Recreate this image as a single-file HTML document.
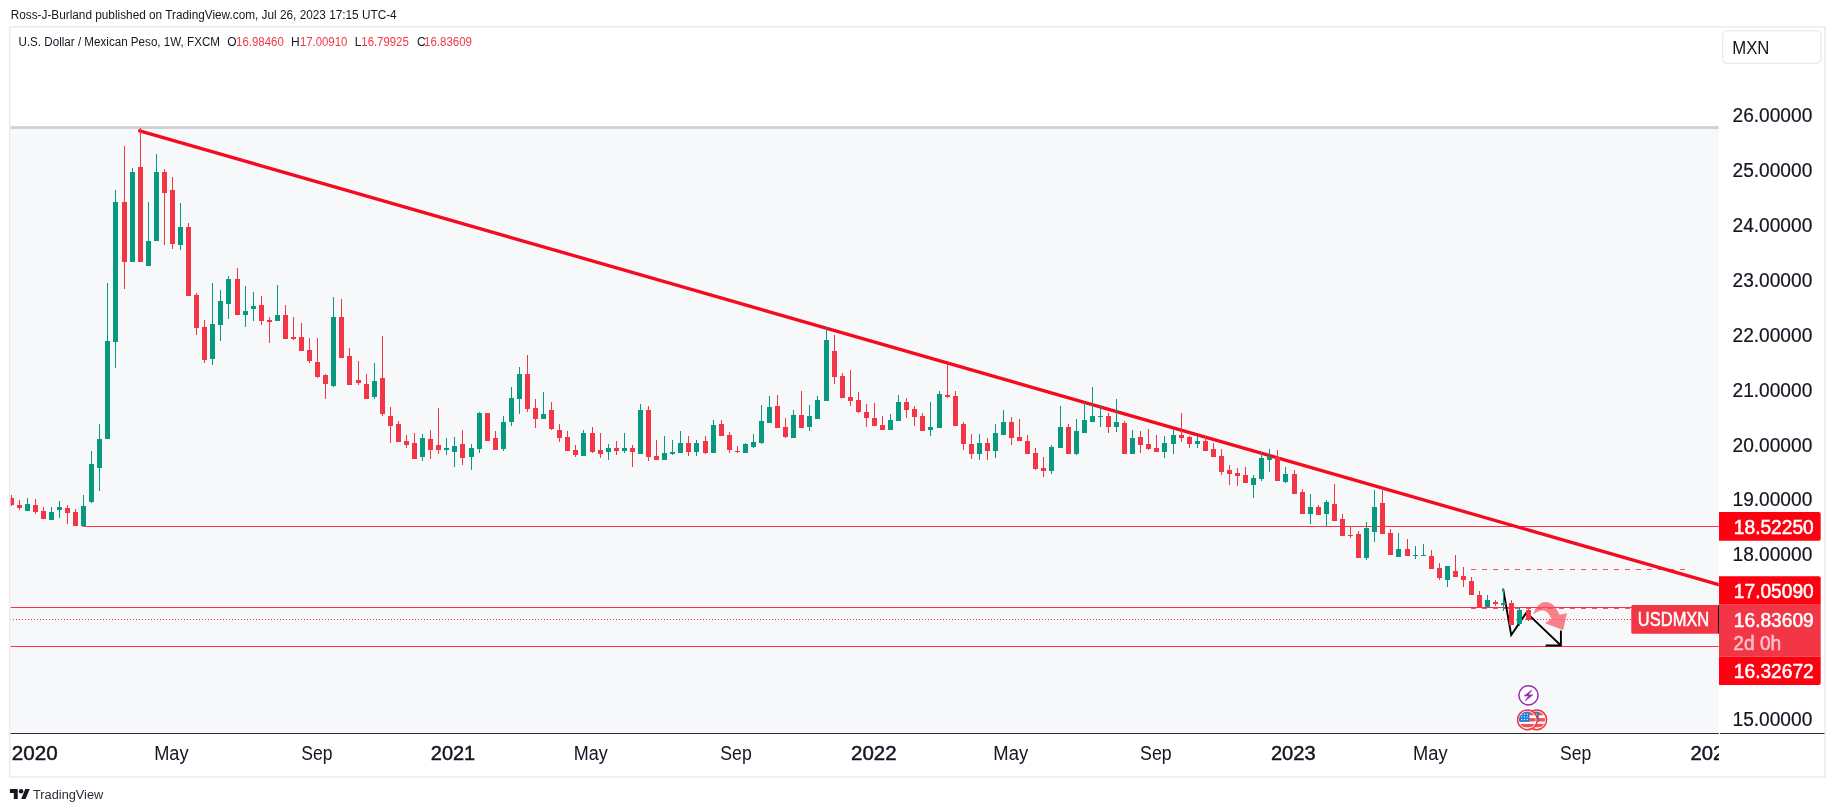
<!DOCTYPE html><html><head><meta charset="utf-8"><style>html,body{margin:0;padding:0;background:#fff}body{width:1835px;height:812px;position:relative;overflow:hidden}</style></head><body><svg width="1835" height="812" viewBox="0 0 1835 812" style="position:absolute;left:0;top:0;will-change:transform" font-family='"Liberation Sans", sans-serif'><defs><clipPath id="cc"><rect x="10.6" y="27.5" width="1708.2" height="705"/></clipPath></defs><rect x="9.75" y="26.75" width="1815.3" height="750.2" fill="#ffffff" stroke="#e9ebef" stroke-width="1.6"/><rect x="10.6" y="128.5" width="1708.2" height="604" fill="#f7f8fa"/><rect x="10.6" y="126.2" width="1708.2" height="2.7" fill="#cdcfd4"/><g clip-path="url(#cc)"><path d="M82.5 526.5H1718.8M10.6 607.5H1718.8M10.6 646.5H1718.8" stroke="#ff3045" stroke-width="1" fill="none"/><path d="M10 619.5H1631" stroke="#f23645" stroke-width="1" stroke-dasharray="1 2" fill="none"/><path d="M1471 569.5H1686M1471 608.5H1631" stroke="#f7505e" stroke-width="1" stroke-dasharray="5 6" fill="none"/><path d="M139.7 130.8L1730 588.0" stroke="#f50a1e" stroke-width="3.3" stroke-linecap="round" fill="none"/><path d="M1503.1 588.6L1511.2 635L1526.4 612.6L1560.9 645.5M1560.9 630.6V645.5H1545.6" stroke="#000" stroke-width="1.9" fill="none" stroke-linejoin="miter"/><g fill="#f7525f" opacity="0.72"><path d="M1533.9 613.5C1537 604.5 1542 602.4 1545.7 602.4C1550 602.4 1554 605 1556 609L1559.5 615.2L1566.4 613.7L1562.9 629.5L1545.7 623.1L1551.8 618.7C1549.5 613.5 1546.5 610 1542.7 610C1539.5 610 1536.5 611.7 1533.9 613.5Z" stroke="#f7525f" stroke-width="0.8" stroke-linejoin="round"/></g><path fill="#f23645" d="M11.0 495h1v11h-1zM9.0 498h5v7h-5zM19.0 500h1v10h-1zM17.0 505h5v3h-5zM35.0 499h1v15h-1zM33.0 505h5v7h-5zM43.0 507h1v12h-1zM41.0 511h5v8h-5zM67.0 505h1v19h-1zM65.0 508h5v5h-5zM75.0 509h1v17h-1zM73.0 512h5v14h-5zM124.0 146h1v143h-1zM122.0 202h5v60h-5zM140.0 128h1v134h-1zM138.0 167h5v95h-5zM164.0 169h1v76h-1zM162.0 172h5v21h-5zM172.0 177h1v72h-1zM170.0 190h5v54h-5zM188.0 223h1v73h-1zM186.0 227h5v69h-5zM196.0 293h1v42h-1zM194.0 295h5v33h-5zM204.0 320h1v43h-1zM202.0 327h5v33h-5zM237.0 268h1v47h-1zM235.0 279h5v36h-5zM261.0 296h1v29h-1zM259.0 305h5v16h-5zM269.0 317h1v26h-1zM267.0 320h5v2h-5zM285.0 305h1v34h-1zM283.0 315h5v24h-5zM293.0 317h1v23h-1zM291.0 337h5v2h-5zM301.0 323h1v28h-1zM299.0 337h5v14h-5zM309.0 338h1v25h-1zM307.0 350h5v11h-5zM317.0 338h1v40h-1zM315.0 362h5v15h-5zM325.0 374h1v25h-1zM323.0 375h5v9h-5zM341.0 299h1v59h-1zM339.0 317h5v41h-5zM349.0 348h1v37h-1zM347.0 356h5v29h-5zM358.0 361h1v24h-1zM356.0 380h5v3h-5zM366.0 374h1v25h-1zM364.0 384h5v15h-5zM382.0 336h1v80h-1zM380.0 378h5v36h-5zM390.0 407h1v36h-1zM388.0 416h5v10h-5zM398.0 421h1v21h-1zM396.0 424h5v18h-5zM406.0 435h1v13h-1zM404.0 441h5v4h-5zM414.0 433h1v26h-1zM412.0 443h5v16h-5zM430.0 430h1v29h-1zM428.0 439h5v11h-5zM438.0 408h1v46h-1zM436.0 445h5v5h-5zM462.0 430h1v35h-1zM460.0 444h5v14h-5zM485.0 413h5v28h-5zM495.0 431h1v19h-1zM493.0 438h5v12h-5zM527.0 355h1v57h-1zM525.0 374h5v35h-5zM535.0 399h1v29h-1zM533.0 408h5v11h-5zM551.0 402h1v28h-1zM549.0 410h5v19h-5zM559.0 424h1v18h-1zM557.0 430h5v8h-5zM567.0 431h1v20h-1zM565.0 437h5v14h-5zM575.0 445h1v12h-1zM573.0 450h5v5h-5zM592.0 427h1v26h-1zM590.0 433h5v19h-5zM600.0 433h1v25h-1zM598.0 450h5v4h-5zM616.0 441h1v14h-1zM614.0 448h5v3h-5zM632.0 445h1v22h-1zM630.0 448h5v4h-5zM648.0 406h1v55h-1zM646.0 410h5v47h-5zM656.0 440h1v20h-1zM654.0 456h5v4h-5zM688.0 436h1v20h-1zM686.0 443h5v9h-5zM705.0 436h1v18h-1zM703.0 441h5v12h-5zM721.0 420h1v16h-1zM719.0 424h5v12h-5zM729.0 432h1v21h-1zM727.0 435h5v15h-5zM737.0 446h1v7h-1zM735.0 451h5v1h-5zM777.0 395h1v33h-1zM775.0 406h5v22h-5zM785.0 418h1v20h-1zM783.0 427h5v10h-5zM801.0 391h1v37h-1zM799.0 415h5v13h-5zM834.0 335h1v49h-1zM832.0 351h5v26h-5zM842.0 373h1v25h-1zM840.0 376h5v22h-5zM850.0 370h1v36h-1zM848.0 397h5v4h-5zM858.0 392h1v21h-1zM856.0 400h5v12h-5zM866.0 404h1v23h-1zM864.0 412h5v6h-5zM874.0 403h1v23h-1zM872.0 418h5v8h-5zM882.0 416h1v14h-1zM880.0 425h5v5h-5zM906.0 398h1v20h-1zM904.0 402h5v8h-5zM914.0 406h1v20h-1zM912.0 409h5v8h-5zM922.0 413h1v18h-1zM920.0 416h5v15h-5zM947.0 364h1v34h-1zM945.0 395h5v2h-5zM955.0 391h1v35h-1zM953.0 396h5v30h-5zM963.0 422h1v28h-1zM961.0 424h5v20h-5zM971.0 434h1v25h-1zM969.0 444h5v10h-5zM987.0 438h1v22h-1zM985.0 443h5v8h-5zM1011.0 417h1v28h-1zM1009.0 422h5v16h-5zM1019.0 419h1v22h-1zM1017.0 437h5v4h-5zM1027.0 435h1v19h-1zM1025.0 441h5v13h-5zM1035.0 448h1v22h-1zM1033.0 453h5v16h-5zM1043.0 457h1v20h-1zM1041.0 468h5v3h-5zM1068.0 424h1v30h-1zM1066.0 427h5v27h-5zM1108.0 413h1v20h-1zM1106.0 416h5v11h-5zM1124.0 421h1v33h-1zM1122.0 423h5v31h-5zM1140.0 431h1v22h-1zM1138.0 437h5v8h-5zM1148.0 429h1v21h-1zM1146.0 444h5v5h-5zM1156.0 435h1v17h-1zM1154.0 448h5v4h-5zM1181.0 413h1v29h-1zM1179.0 435h5v3h-5zM1189.0 436h1v12h-1zM1187.0 437h5v7h-5zM1205.0 436h1v15h-1zM1203.0 441h5v10h-5zM1213.0 443h1v14h-1zM1211.0 449h5v8h-5zM1221.0 449h1v26h-1zM1219.0 456h5v16h-5zM1229.0 465h1v20h-1zM1227.0 470h5v4h-5zM1237.0 468h1v18h-1zM1235.0 473h5v3h-5zM1245.0 467h1v16h-1zM1243.0 475h5v8h-5zM1277.0 450h1v31h-1zM1275.0 457h5v24h-5zM1294.0 470h1v24h-1zM1292.0 474h5v20h-5zM1302.0 489h1v25h-1zM1300.0 492h5v22h-5zM1318.0 505h1v10h-1zM1316.0 507h5v8h-5zM1334.0 484h1v37h-1zM1332.0 504h5v17h-5zM1342.0 514h1v22h-1zM1340.0 519h5v17h-5zM1350.0 526h1v12h-1zM1348.0 535h5v1h-5zM1358.0 531h1v27h-1zM1356.0 534h5v24h-5zM1382.0 488h1v46h-1zM1380.0 503h5v31h-5zM1390.0 529h1v26h-1zM1388.0 533h5v22h-5zM1407.0 539h1v17h-1zM1405.0 549h5v7h-5zM1431.0 550h1v19h-1zM1429.0 556h5v13h-5zM1439.0 563h1v17h-1zM1437.0 568h5v10h-5zM1455.0 555h1v22h-1zM1453.0 571h5v6h-5zM1463.0 567h1v20h-1zM1461.0 576h5v4h-5zM1471.0 577h1v18h-1zM1469.0 581h5v14h-5zM1479.0 591h1v16h-1zM1477.0 595h5v12h-5zM1495.0 600h1v6h-1zM1493.0 602h5v2h-5zM1511.0 600h1v25h-1zM1509.0 603h5v22h-5zM1528.0 609h1v12h-1zM1526.0 610h5v10h-5z"/><path fill="#089981" d="M27.0 498h1v13h-1zM25.0 504h5v7h-5zM51.0 507h1v13h-1zM49.0 512h5v8h-5zM59.0 501h1v17h-1zM57.0 507h5v3h-5zM83.0 495h1v31h-1zM81.0 506h5v20h-5zM91.0 451h1v52h-1zM89.0 464h5v38h-5zM99.0 424h1v67h-1zM97.0 439h5v29h-5zM107.0 283h1v156h-1zM105.0 341h5v98h-5zM115.0 190h1v178h-1zM113.0 202h5v140h-5zM132.0 168h1v94h-1zM130.0 172h5v90h-5zM148.0 202h1v64h-1zM146.0 241h5v25h-5zM156.0 154h1v87h-1zM154.0 172h5v69h-5zM180.0 203h1v47h-1zM178.0 227h5v18h-5zM212.0 283h1v82h-1zM210.0 324h5v35h-5zM220.0 290h1v51h-1zM218.0 301h5v24h-5zM228.0 276h1v43h-1zM226.0 279h5v25h-5zM245.0 286h1v41h-1zM243.0 311h5v4h-5zM253.0 292h1v29h-1zM251.0 306h5v3h-5zM277.0 285h1v36h-1zM275.0 315h5v6h-5zM333.0 297h1v90h-1zM331.0 317h5v69h-5zM374.0 363h1v36h-1zM372.0 381h5v16h-5zM422.0 434h1v27h-1zM420.0 438h5v19h-5zM446.0 438h1v17h-1zM444.0 448h5v2h-5zM454.0 437h1v30h-1zM452.0 446h5v6h-5zM471.0 444h1v26h-1zM469.0 448h5v9h-5zM479.0 412h1v41h-1zM477.0 413h5v36h-5zM503.0 416h1v35h-1zM501.0 422h5v27h-5zM511.0 387h1v39h-1zM509.0 398h5v24h-5zM519.0 367h1v47h-1zM517.0 374h5v25h-5zM543.0 392h1v27h-1zM541.0 414h5v5h-5zM583.0 430h1v26h-1zM581.0 433h5v23h-5zM608.0 444h1v16h-1zM606.0 448h5v4h-5zM624.0 433h1v20h-1zM622.0 448h5v3h-5zM640.0 404h1v50h-1zM638.0 410h5v44h-5zM664.0 436h1v24h-1zM662.0 453h5v7h-5zM672.0 440h1v15h-1zM670.0 452h5v2h-5zM680.0 431h1v22h-1zM678.0 443h5v10h-5zM696.0 440h1v16h-1zM694.0 443h5v9h-5zM713.0 420h1v33h-1zM711.0 425h5v28h-5zM745.0 443h1v10h-1zM743.0 444h5v9h-5zM753.0 434h1v14h-1zM751.0 442h5v5h-5zM761.0 405h1v39h-1zM759.0 421h5v22h-5zM769.0 396h1v27h-1zM767.0 407h5v16h-5zM793.0 410h1v28h-1zM791.0 415h5v23h-5zM809.0 405h1v26h-1zM807.0 416h5v11h-5zM817.0 396h1v23h-1zM815.0 400h5v19h-5zM826.0 327h1v74h-1zM824.0 340h5v61h-5zM890.0 414h1v16h-1zM888.0 420h5v10h-5zM898.0 395h1v26h-1zM896.0 402h5v19h-5zM930.0 402h1v34h-1zM928.0 427h5v3h-5zM939.0 391h1v37h-1zM937.0 394h5v34h-5zM979.0 434h1v26h-1zM977.0 443h5v11h-5zM995.0 424h1v34h-1zM993.0 433h5v18h-5zM1003.0 410h1v25h-1zM1001.0 422h5v13h-5zM1051.0 445h1v29h-1zM1049.0 447h5v24h-5zM1060.0 406h1v42h-1zM1058.0 427h5v21h-5zM1076.0 419h1v36h-1zM1074.0 431h5v23h-5zM1084.0 402h1v31h-1zM1082.0 420h5v13h-5zM1092.0 387h1v35h-1zM1090.0 416h5v6h-5zM1100.0 405h1v22h-1zM1098.0 416h5v1h-5zM1116.0 399h1v33h-1zM1114.0 422h5v5h-5zM1132.0 430h1v24h-1zM1130.0 438h5v16h-5zM1164.0 436h1v22h-1zM1162.0 443h5v9h-5zM1173.0 430h1v24h-1zM1171.0 435h5v9h-5zM1197.0 436h1v12h-1zM1195.0 441h5v3h-5zM1253.0 475h1v23h-1zM1251.0 478h5v7h-5zM1261.0 452h1v29h-1zM1259.0 458h5v21h-5zM1269.0 449h1v23h-1zM1267.0 457h5v3h-5zM1285.0 467h1v16h-1zM1283.0 474h5v8h-5zM1310.0 494h1v30h-1zM1308.0 507h5v7h-5zM1326.0 500h1v26h-1zM1324.0 502h5v12h-5zM1366.0 522h1v38h-1zM1364.0 528h5v30h-5zM1374.0 490h1v52h-1zM1372.0 507h5v25h-5zM1398.0 533h1v24h-1zM1396.0 549h5v8h-5zM1415.0 546h1v13h-1zM1413.0 555h5v1h-5zM1423.0 544h1v12h-1zM1421.0 555h5v1h-5zM1447.0 566h1v21h-1zM1445.0 566h5v14h-5zM1487.0 595h1v12h-1zM1485.0 600h5v7h-5zM1503.0 589h1v22h-1zM1501.0 603h5v2h-5zM1519.0 607h1v19h-1zM1517.0 610h5v14h-5z"/><circle cx="1528.5" cy="695.3" r="9.6" fill="#fff" stroke="#9c27b0" stroke-width="1.5"/><path d="M1531.8 690.1L1524.2 695.9H1528.7L1525.3 700.7L1532.8 694.9H1528.3Z" fill="#9c27b0" stroke="#9c27b0" stroke-width="0.7" stroke-linejoin="round"/><circle cx="1536.8" cy="719.85" r="9.85" fill="#fff" stroke="#f23645" stroke-width="1.5"/><clipPath id="fl1536"><circle cx="1536.8" cy="719.85" r="8.3"/></clipPath><g clip-path="url(#fl1536)"><rect x="1527.8" y="710.85" width="18" height="18" fill="#fff"/><rect x="1527.8" y="712.20" width="18" height="3.1" fill="#f0534f"/><rect x="1527.8" y="718.10" width="18" height="3.4" fill="#f0534f"/><rect x="1527.8" y="723.90" width="18" height="3.4" fill="#f0534f"/><rect x="1527.8" y="710.85" width="11.0" height="10.95" fill="#1e7de0"/><rect x="1530.60" y="713.70" width="1.1" height="1.1" fill="#fff"/><rect x="1530.60" y="716.30" width="1.1" height="1.1" fill="#fff"/><rect x="1530.60" y="719.00" width="1.1" height="1.1" fill="#fff"/><rect x="1533.30" y="713.70" width="1.1" height="1.1" fill="#fff"/><rect x="1533.30" y="716.30" width="1.1" height="1.1" fill="#fff"/><rect x="1533.30" y="719.00" width="1.1" height="1.1" fill="#fff"/><rect x="1536.00" y="713.70" width="1.1" height="1.1" fill="#fff"/><rect x="1536.00" y="716.30" width="1.1" height="1.1" fill="#fff"/><rect x="1536.00" y="719.00" width="1.1" height="1.1" fill="#fff"/></g><circle cx="1527.45" cy="719.85" r="9.85" fill="#fff" stroke="#f23645" stroke-width="1.5"/><clipPath id="fl1527"><circle cx="1527.45" cy="719.85" r="8.3"/></clipPath><g clip-path="url(#fl1527)"><rect x="1518.45" y="710.85" width="18" height="18" fill="#fff"/><rect x="1518.45" y="712.20" width="18" height="3.1" fill="#f0534f"/><rect x="1518.45" y="718.10" width="18" height="3.4" fill="#f0534f"/><rect x="1518.45" y="723.90" width="18" height="3.4" fill="#f0534f"/><rect x="1518.45" y="710.85" width="11.0" height="10.95" fill="#1e7de0"/><rect x="1521.25" y="713.70" width="1.1" height="1.1" fill="#fff"/><rect x="1521.25" y="716.30" width="1.1" height="1.1" fill="#fff"/><rect x="1521.25" y="719.00" width="1.1" height="1.1" fill="#fff"/><rect x="1523.95" y="713.70" width="1.1" height="1.1" fill="#fff"/><rect x="1523.95" y="716.30" width="1.1" height="1.1" fill="#fff"/><rect x="1523.95" y="719.00" width="1.1" height="1.1" fill="#fff"/><rect x="1526.65" y="713.70" width="1.1" height="1.1" fill="#fff"/><rect x="1526.65" y="716.30" width="1.1" height="1.1" fill="#fff"/><rect x="1526.65" y="719.00" width="1.1" height="1.1" fill="#fff"/></g></g><rect x="10.6" y="733" width="1708.2" height="1" fill="#2a2e39"/><rect x="1720" y="733" width="104.5" height="1" fill="#2a2e39"/><text x="1732.5" y="122.1" font-size="19.5" font-weight="normal" fill="#131722" text-anchor="start" textLength="79.8" lengthAdjust="spacingAndGlyphs" stroke="#131722" stroke-width="0.2">26.00000</text><text x="1732.5" y="177.0" font-size="19.5" font-weight="normal" fill="#131722" text-anchor="start" textLength="79.8" lengthAdjust="spacingAndGlyphs" stroke="#131722" stroke-width="0.2">25.00000</text><text x="1732.5" y="231.9" font-size="19.5" font-weight="normal" fill="#131722" text-anchor="start" textLength="79.8" lengthAdjust="spacingAndGlyphs" stroke="#131722" stroke-width="0.2">24.00000</text><text x="1732.5" y="286.8" font-size="19.5" font-weight="normal" fill="#131722" text-anchor="start" textLength="79.8" lengthAdjust="spacingAndGlyphs" stroke="#131722" stroke-width="0.2">23.00000</text><text x="1732.5" y="341.70000000000005" font-size="19.5" font-weight="normal" fill="#131722" text-anchor="start" textLength="79.8" lengthAdjust="spacingAndGlyphs" stroke="#131722" stroke-width="0.2">22.00000</text><text x="1732.5" y="396.6" font-size="19.5" font-weight="normal" fill="#131722" text-anchor="start" textLength="79.8" lengthAdjust="spacingAndGlyphs" stroke="#131722" stroke-width="0.2">21.00000</text><text x="1732.5" y="451.5" font-size="19.5" font-weight="normal" fill="#131722" text-anchor="start" textLength="79.8" lengthAdjust="spacingAndGlyphs" stroke="#131722" stroke-width="0.2">20.00000</text><text x="1732.5" y="506.40000000000003" font-size="19.5" font-weight="normal" fill="#131722" text-anchor="start" textLength="79.8" lengthAdjust="spacingAndGlyphs" stroke="#131722" stroke-width="0.2">19.00000</text><text x="1732.5" y="561.3000000000001" font-size="19.5" font-weight="normal" fill="#131722" text-anchor="start" textLength="79.8" lengthAdjust="spacingAndGlyphs" stroke="#131722" stroke-width="0.2">18.00000</text><text x="1732.5" y="726.0" font-size="19.5" font-weight="normal" fill="#131722" text-anchor="start" textLength="79.8" lengthAdjust="spacingAndGlyphs" stroke="#131722" stroke-width="0.2">15.00000</text><path d="M1719 511.9H1818.7Q1820.7 511.9 1820.7 513.9V538.8Q1820.7 540.8 1818.7 540.8H1719Z" fill="#ff0011"/><text x="1733.8" y="533.9" font-size="19.5" font-weight="normal" fill="#fff" text-anchor="start" textLength="80" lengthAdjust="spacingAndGlyphs" stroke="#fff" stroke-width="0.5">18.52250</text><path d="M1719 576.2H1818.7Q1820.7 576.2 1820.7 578.2V604.7H1719Z" fill="#ff0011"/><text x="1733.8" y="597.8" font-size="19.5" font-weight="normal" fill="#fff" text-anchor="start" textLength="80" lengthAdjust="spacingAndGlyphs" stroke="#fff" stroke-width="0.5">17.05090</text><path d="M1719 604.7H1820.7V656.8H1719Z" fill="#f23645"/><text x="1733.8" y="627.2" font-size="19.5" font-weight="normal" fill="#fff" text-anchor="start" textLength="80" lengthAdjust="spacingAndGlyphs" stroke="#fff" stroke-width="0.5">16.83609</text><text x="1733.3" y="649.6" font-size="19.5" font-weight="normal" fill="#f9c4c9" text-anchor="start" textLength="48" lengthAdjust="spacingAndGlyphs" stroke="#f9c4c9" stroke-width="0.5">2d 0h</text><path d="M1719 656.8H1820.7V683Q1820.7 685 1818.7 685H1719Z" fill="#ff0011"/><text x="1733.8" y="678.1" font-size="19.5" font-weight="normal" fill="#fff" text-anchor="start" textLength="80" lengthAdjust="spacingAndGlyphs" stroke="#fff" stroke-width="0.5">16.32672</text><rect x="1631.3" y="605" width="87" height="28.7" fill="#f23645" rx="1.5"/><rect x="1718" y="605" width="1" height="28.7" fill="#131722"/><text x="1637.8" y="626" font-size="19.5" font-weight="normal" fill="#fff" text-anchor="start" textLength="71.5" lengthAdjust="spacingAndGlyphs" stroke="#fff" stroke-width="0.5">USDMXN</text><rect x="1722.7" y="30.8" width="98.2" height="32.4" rx="3.5" fill="#fff" stroke="#e0e3eb" stroke-width="1"/><text x="1732.2" y="53.7" font-size="18" font-weight="normal" fill="#131722" text-anchor="start" textLength="37.2" lengthAdjust="spacingAndGlyphs">MXN</text><text x="11.8" y="760" font-size="19.5" font-weight="normal" fill="#131722" text-anchor="start" textLength="45.9" lengthAdjust="spacingAndGlyphs" stroke="#131722" stroke-width="0.45">2020</text><text x="154.2" y="760" font-size="19.5" font-weight="normal" fill="#131722" text-anchor="start" textLength="34.4" lengthAdjust="spacingAndGlyphs">May</text><text x="301.2" y="760" font-size="19.5" font-weight="normal" fill="#131722" text-anchor="start" textLength="31.2" lengthAdjust="spacingAndGlyphs">Sep</text><text x="430.8" y="760" font-size="19.5" font-weight="normal" fill="#131722" text-anchor="start" textLength="44.4" lengthAdjust="spacingAndGlyphs" stroke="#131722" stroke-width="0.45">2021</text><text x="573.8" y="760" font-size="19.5" font-weight="normal" fill="#131722" text-anchor="start" textLength="34.0" lengthAdjust="spacingAndGlyphs">May</text><text x="720.3" y="760" font-size="19.5" font-weight="normal" fill="#131722" text-anchor="start" textLength="31.4" lengthAdjust="spacingAndGlyphs">Sep</text><text x="851.1" y="760" font-size="19.5" font-weight="normal" fill="#131722" text-anchor="start" textLength="45.5" lengthAdjust="spacingAndGlyphs" stroke="#131722" stroke-width="0.45">2022</text><text x="993.3" y="760" font-size="19.5" font-weight="normal" fill="#131722" text-anchor="start" textLength="34.8" lengthAdjust="spacingAndGlyphs">May</text><text x="1140.1" y="760" font-size="19.5" font-weight="normal" fill="#131722" text-anchor="start" textLength="31.6" lengthAdjust="spacingAndGlyphs">Sep</text><text x="1270.9" y="760" font-size="19.5" font-weight="normal" fill="#131722" text-anchor="start" textLength="44.7" lengthAdjust="spacingAndGlyphs" stroke="#131722" stroke-width="0.45">2023</text><text x="1413.1" y="760" font-size="19.5" font-weight="normal" fill="#131722" text-anchor="start" textLength="34.5" lengthAdjust="spacingAndGlyphs">May</text><text x="1560.1" y="760" font-size="19.5" font-weight="normal" fill="#131722" text-anchor="start" textLength="31.3" lengthAdjust="spacingAndGlyphs">Sep</text><clipPath id="c202"><rect x="1680" y="735" width="39" height="40"/></clipPath><g clip-path="url(#c202)"><text x="1690.4" y="760" font-size="19.5" font-weight="normal" fill="#131722" text-anchor="start" textLength="45" lengthAdjust="spacingAndGlyphs" stroke="#131722" stroke-width="0.45">2024</text></g><text x="10.7" y="18.8" font-size="12" font-weight="normal" fill="#131722" text-anchor="start" textLength="386" lengthAdjust="spacingAndGlyphs">Ross-J-Burland published on TradingView.com, Jul 26, 2023 17:15 UTC-4</text><text x="18.5" y="45.8" font-size="12" font-weight="normal" fill="#131722" text-anchor="start" textLength="201.5" lengthAdjust="spacingAndGlyphs">U.S. Dollar / Mexican Peso, 1W, FXCM</text><text x="227.3" y="45.8" font-size="12" font-weight="normal" fill="#131722" text-anchor="start">O</text><text x="236.1" y="45.8" font-size="12" font-weight="normal" fill="#f23645" text-anchor="start" textLength="47.7" lengthAdjust="spacingAndGlyphs">16.98460</text><text x="291" y="45.8" font-size="12" font-weight="normal" fill="#131722" text-anchor="start">H</text><text x="299.9" y="45.8" font-size="12" font-weight="normal" fill="#f23645" text-anchor="start" textLength="47.4" lengthAdjust="spacingAndGlyphs">17.00910</text><text x="354.8" y="45.8" font-size="12" font-weight="normal" fill="#131722" text-anchor="start">L</text><text x="361.3" y="45.8" font-size="12" font-weight="normal" fill="#f23645" text-anchor="start" textLength="47.5" lengthAdjust="spacingAndGlyphs">16.79925</text><text x="416.9" y="45.8" font-size="12" font-weight="normal" fill="#131722" text-anchor="start">C</text><text x="424.1" y="45.8" font-size="12" font-weight="normal" fill="#f23645" text-anchor="start" textLength="47.8" lengthAdjust="spacingAndGlyphs">16.83609</text><g transform="translate(9.9 786.8) scale(0.56)" fill="#131722"><path d="M14 22H7V11H0V4h14v18zM28 22h-8l7.5-18h8L28 22z"/><circle cx="20" cy="8" r="4"/></g><text x="33" y="798.9" font-size="12.5" font-weight="normal" fill="#2a2e39" text-anchor="start" textLength="70.3" lengthAdjust="spacingAndGlyphs">TradingView</text></svg></body></html>
